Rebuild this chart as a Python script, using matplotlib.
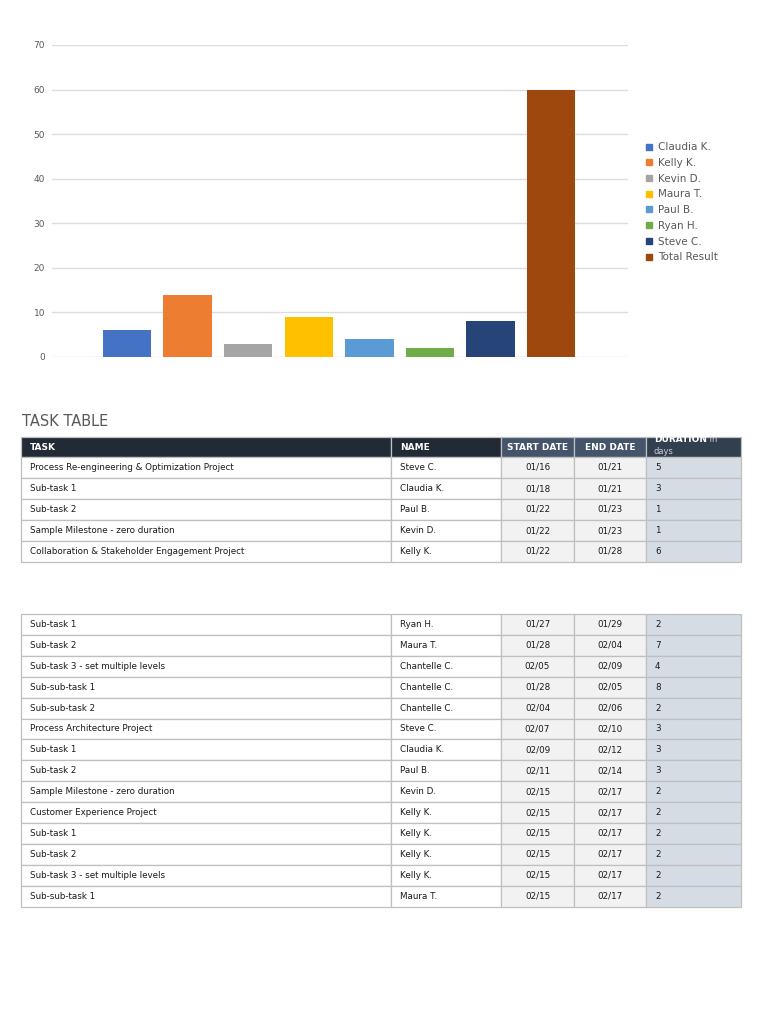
import matplotlib
matplotlib.use("Agg")
import matplotlib.pyplot as plt
from matplotlib.patches import Rectangle
from matplotlib.lines import Line2D

# ── Chart data ────────────────────────────────────────────────────────────────
NAMES = ["Claudia K.", "Kelly K.", "Kevin D.", "Maura T.", "Paul B.",
         "Ryan H.", "Steve C.", "Total Result"]
DAYS = [6, 14, 3, 9, 4, 2, 8, 60]
COLORS = ["#4472C4", "#ED7D31", "#A5A5A5", "#FFC000", "#5B9BD5",
          "#70AD47", "#264478", "#9E480E"]
Y_TICKS = [0, 10, 20, 30, 40, 50, 60, 70]

# ── Table data ────────────────────────────────────────────────────────────────
HEADERS = ["TASK", "NAME", "START DATE", "END DATE", "DURATION"]

T1_TASK = ["Process Re-engineering & Optimization Project", "Sub-task 1", "Sub-task 2",
           "Sample Milestone - zero duration", "Collaboration & Stakeholder Engagement Project"]
T1_NAME = ["Steve C.", "Claudia K.", "Paul B.", "Kevin D.", "Kelly K."]
T1_START = ["01/16", "01/18", "01/22", "01/22", "01/22"]
T1_END = ["01/21", "01/21", "01/23", "01/23", "01/28"]
T1_DUR = [5, 3, 1, 1, 6]

T2_TASK = ["Sub-task 1", "Sub-task 2", "Sub-task 3 - set multiple levels", "Sub-sub-task 1",
           "Sub-sub-task 2", "Process Architecture Project", "Sub-task 1", "Sub-task 2",
           "Sample Milestone - zero duration", "Customer Experience Project", "Sub-task 1",
           "Sub-task 2", "Sub-task 3 - set multiple levels", "Sub-sub-task 1"]
T2_NAME = ["Ryan H.", "Maura T.", "Chantelle C.", "Chantelle C.", "Chantelle C.", "Steve C.",
           "Claudia K.", "Paul B.", "Kevin D.", "Kelly K.", "Kelly K.", "Kelly K.",
           "Kelly K.", "Maura T."]
T2_START = ["01/27", "01/28", "02/05", "01/28", "02/04", "02/07", "02/09", "02/11",
            "02/15", "02/15", "02/15", "02/15", "02/15", "02/15"]
T2_END = ["01/29", "02/04", "02/09", "02/05", "02/06", "02/10", "02/12", "02/14",
          "02/17", "02/17", "02/17", "02/17", "02/17", "02/17"]
T2_DUR = [2, 7, 4, 8, 2, 3, 3, 3, 2, 2, 2, 2, 2, 2]

W, H = 768, 1024
COL_X = [21, 391, 501, 574, 646, 741]
HEAD_BG = ["#222A35", "#222A35", "#44546A", "#44546A", "#323F4F"]
CELL_BG = ["white", "white", "#F2F2F2", "#F2F2F2", "#D6DCE4"]
BORDER = "#BFBFBF"
TXT = "#1a1a1a"

fig = plt.figure(figsize=(W / 100, H / 100), dpi=100)

# ── Bar chart ─────────────────────────────────────────────────────────────────
ax = fig.add_axes([52 / W, 1 - 357 / H, (628 - 52) / W, (357 - 45) / H])
x = list(range(len(NAMES)))
ax.bar(x, DAYS, width=0.8, color=COLORS, zorder=3)
ax.set_ylim(0, 70)
ax.set_xlim(-1.24, 8.27)
ax.set_yticks(Y_TICKS)
ax.set_xticks([])
ax.grid(axis="y", color="#DDDDDD", lw=1, zorder=0)
for s in ax.spines.values():
    s.set_visible(False)
ax.tick_params(axis="y", length=0, pad=5, labelsize=6.5, labelcolor="#595959")

handles = [Line2D([], [], marker="s", ls="", color=c, markersize=5) for c in COLORS]
fig.legend(handles, NAMES, loc="upper left", bbox_to_anchor=(640 / W, 1 - 138 / H),
           frameon=False, fontsize=7.5, labelcolor="#595959", handletextpad=0.3,
           handlelength=1.0, labelspacing=0.55, borderaxespad=0)

# ── Tables ────────────────────────────────────────────────────────────────────
tx = fig.add_axes([0, 0, 1, 1])
tx.set_xlim(0, W)
tx.set_ylim(H, 0)
tx.axis("off")

tx.text(22, 421, "TASK TABLE", fontsize=10.5, color="#595959", va="center", ha="left")


def cell_text(i, y, val):
    if i in (2, 3):
        tx.text((COL_X[i] + COL_X[i + 1]) / 2, y, val, fontsize=6.3, color=TXT,
                ha="center", va="center")
    else:
        tx.text(COL_X[i] + 9, y, val, fontsize=6.3, color=TXT, ha="left", va="center")


def draw_rows(top, rh, cols):
    n = len(cols[0])
    for r in range(n):
        y0 = top + r * rh
        for i in range(5):
            tx.add_patch(Rectangle((COL_X[i], y0), COL_X[i + 1] - COL_X[i], rh,
                                   facecolor=CELL_BG[i], edgecolor=BORDER, lw=0.9))
            cell_text(i, y0 + rh / 2, str(cols[i][r]))


# header of first table
hy0, hy1 = 437, 457
for i in range(5):
    tx.add_patch(Rectangle((COL_X[i], hy0), COL_X[i + 1] - COL_X[i], hy1 - hy0,
                           facecolor=HEAD_BG[i], edgecolor=BORDER, lw=0.9))
for i in range(4):
    if i in (2, 3):
        tx.text((COL_X[i] + COL_X[i + 1]) / 2, (hy0 + hy1) / 2, HEADERS[i], fontsize=6.5,
                color="white", weight="bold", ha="center", va="center")
    else:
        tx.text(COL_X[i] + 9, (hy0 + hy1) / 2, HEADERS[i], fontsize=6.5,
                color="white", weight="bold", ha="left", va="center")
t = tx.text(COL_X[4] + 8, 440, HEADERS[4], fontsize=6.5, color="white", weight="bold",
            ha="left", va="center")
tx.annotate(" in", xycoords=t, xy=(1, 0.5), va="center", ha="left",
            fontsize=6, color="#C9D0DA")
tx.text(COL_X[4] + 8, 452, "days", fontsize=6, color="#C9D0DA", ha="left", va="center")

draw_rows(457, 21, [T1_TASK, T1_NAME, T1_START, T1_END, T1_DUR])
draw_rows(614, 20.9, [T2_TASK, T2_NAME, T2_START, T2_END, T2_DUR])

fig.savefig("out.png", dpi=100, facecolor="white")
